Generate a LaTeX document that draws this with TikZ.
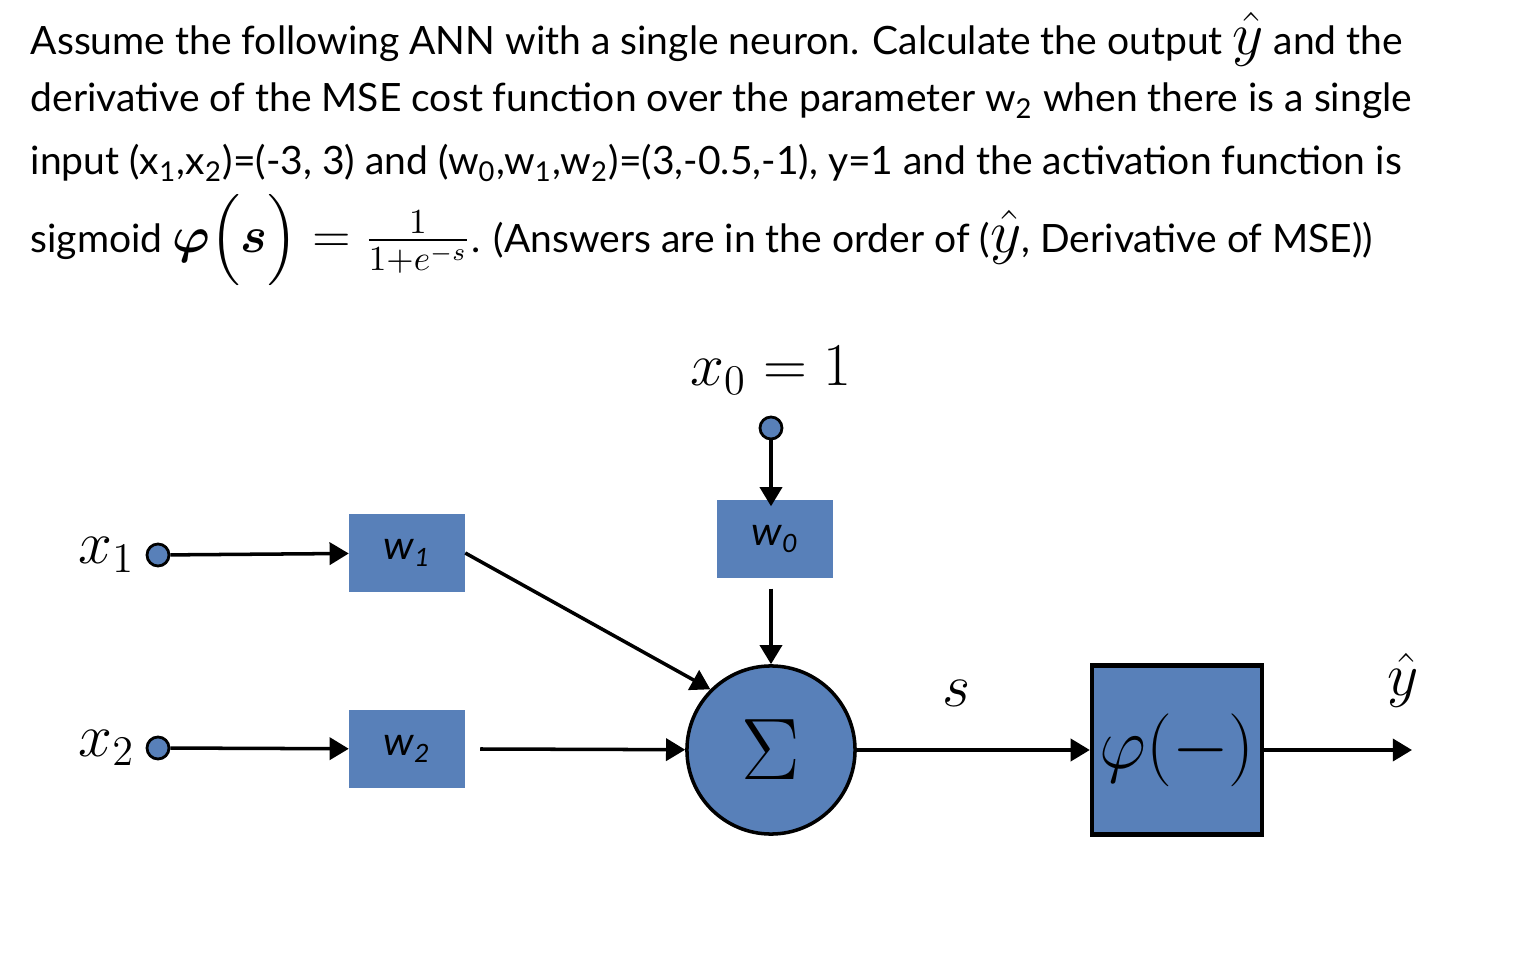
\documentclass[tikz,border=0pt]{standalone}
\usepackage{amsmath}
\usepackage{fontspec}
\setmainfont{Lato}
\newfontfamily\boxfont{Carlito}
\usetikzlibrary{arrows.meta,positioning,shapes.geometric}
\definecolor{cellblue}{RGB}{88,128,185}
\begin{document}
\begin{tikzpicture}[x=0.01cm, y=-0.01cm, >=Triangle,
	textline/.style={anchor=base west, inner sep=0pt, font=\fontsize{11.1}{13}\selectfont},
	weightbox/.style={fill=cellblue, minimum width=1.15cm, minimum height=0.78cm, inner sep=0pt, font=\boxfont\itshape\fontsize{12}{14}\selectfont},
	inputdot/.style={circle, draw=black, fill=cellblue, line width=0.8pt, minimum size=0.22cm, inner sep=0pt},
	sumnode/.style={circle, draw=black, fill=cellblue, line width=1pt, minimum size=1.68cm, inner sep=0pt},
	actbox/.style={draw=black, fill=cellblue, line width=1.2pt, minimum width=1.7cm, minimum height=1.69cm, inner sep=0pt},
	mathlabel/.style={inner sep=0pt, font=\fontsize{18}{21}\selectfont},
	wire/.style={line width=1pt, ->}
	]
	\useasboundingbox (0,0) rectangle (1532,970);
	% question text
	\node[textline] (line1) at (30,55) {Assume the following ANN with a single neuron. Calculate the output {\LARGE$\hat{y}$} and the};
	\node[textline] (line2) at (30,112) {derivative of the MSE cost function over the parameter w\textsubscript{2} when there is a single};
	\node[textline] (line3) at (30,175) {input (x\textsubscript{1},x\textsubscript{2})=(-3, 3) and (w\textsubscript{0},w\textsubscript{1},w\textsubscript{2})=(3,-0.5,-1), y=1 and the activation function is};
	\node[textline] (line4) at (30,253) {sigmoid {\Large$\boldsymbol{\varphi}\Big(\boldsymbol{s}\Big) = \frac{1}{1+e^{-s}}$}. (Answers are in the order of ({\LARGE$\hat{y}$}, Derivative of MSE))};
	% inputs
	\node[inputdot] (x1dot) at (158,555) {};
	\node[inputdot] (x2dot) at (158,748) {};
	\node[inputdot] (x0dot) at (771,428) {};
	\node[mathlabel, left=0.1cm of x1dot] (x1) {$x_1$};
	\node[mathlabel, left=0.1cm of x2dot] (x2) {$x_2$};
	\node[mathlabel, above=0.2cm of x0dot] (x0) {$x_0 = 1$};
	% weights
	\node[weightbox] (w1) at (407,553) {w\textsubscript{1}};
	\node[weightbox] (w2) at (407,749) {w\textsubscript{2}};
	\node[weightbox] (w0) at (775,539) {w\textsubscript{0}};
	% neuron
	\node[sumnode] (sum) at (771,750) {\fontsize{40}{40}\selectfont$\Sigma$};
	\node[actbox] (act) at (1177,750) {\fontsize{22}{22}\selectfont$\varphi(-)$};
	\coordinate (out) at (1412,750);
	\node[mathlabel] (slabel) at (957,693) {$s$};
	\node[mathlabel] (yhat) at (1403,680) {$\hat{y}$};
	% connectors
	\draw[wire] (x1dot) -- (w1);
	\draw[wire] (x2dot) -- (w2);
	\draw[wire] (x0dot) -- ([yshift=-0.07cm]x0dot |- w0.north);
	\draw[wire] ([yshift=-0.1cm]x0dot |- w0.south) -- (sum);
	\draw[wire] (w1.east) -- (sum.135);
	\draw[wire] ([xshift=0.15cm]w2.east) -- (sum);
	\draw[wire] (sum) -- (act);
	\draw[wire] (act) -- (out);
\end{tikzpicture}
\end{document}
